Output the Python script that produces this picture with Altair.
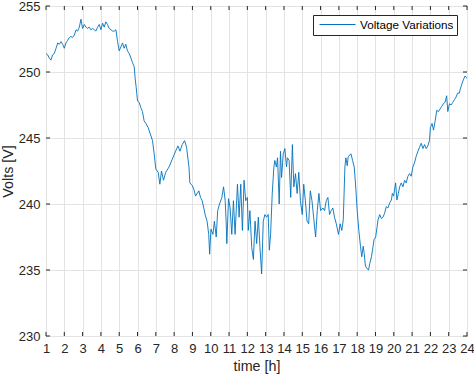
import altair as alt
import pandas as pd

# ---- data ----
time_h = [
    1.0, 1.09, 1.18, 1.27, 1.36, 1.45, 1.55, 1.64, 1.73, 1.82, 1.91, 2.0, 2.09, 2.18, 2.27, 2.36, 2.45, 2.55,
    2.64, 2.73, 2.82, 2.91, 3.0, 3.09, 3.18, 3.27, 3.36, 3.45, 3.55, 3.64, 3.73, 3.82, 3.91, 4.0, 4.09, 4.18,
    4.27, 4.36, 4.45, 4.55, 4.64, 4.73, 4.82, 4.91, 5.0, 5.09, 5.18, 5.27, 5.36, 5.45, 5.55, 5.64, 5.73, 5.82,
    5.87, 5.93, 6.0, 6.09, 6.18, 6.27, 6.36,
    6.46, 6.58, 6.7, 6.82, 6.91, 7.0, 7.13, 7.22, 7.31, 7.42, 7.54, 7.72, 7.9, 8.08, 8.21, 8.32, 8.44, 8.57,
    8.68, 8.81, 8.86, 8.99, 9.08, 9.17, 9.35, 9.44, 9.53, 9.62, 9.71, 9.8, 9.89, 9.94, 10.01, 10.12, 10.2,
    10.3, 10.38, 10.48, 10.61, 10.7, 10.79, 10.84, 10.88, 10.97, 11.06, 11.15, 11.24, 11.33, 11.46, 11.55,
    11.64, 11.73, 11.82, 11.91, 12.0,
    12.05, 12.14, 12.24, 12.33, 12.42, 12.51, 12.6, 12.69, 12.78, 12.87, 12.96, 13.05, 13.14, 13.2, 13.27,
    13.36, 13.45, 13.5, 13.59, 13.65, 13.74, 13.81, 13.87, 13.96, 14.05, 14.14, 14.19, 14.28, 14.37, 14.46,
    14.54, 14.63, 14.72, 14.81, 14.9, 15.0, 15.08, 15.17, 15.26, 15.35, 15.44, 15.53, 15.62, 15.73, 15.82,
    15.91, 16.0, 16.13, 16.22, 16.31, 16.4, 16.49, 16.58, 16.67, 16.76, 16.86, 16.98, 17.07, 17.16, 17.24,
    17.33, 17.38, 17.46, 17.51, 17.6, 17.66, 17.75, 17.84, 17.93, 18.0,
    18.09, 18.18, 18.25, 18.33, 18.38, 18.45, 18.54, 18.62, 18.69, 18.78, 18.87, 18.92, 19.01, 19.09, 19.14,
    19.23, 19.32, 19.41, 19.5, 19.59, 19.68, 19.78, 19.87, 19.92, 19.99, 20.1, 20.17, 20.25, 20.32, 20.41,
    20.5, 20.59, 20.68, 20.77, 20.86, 20.95, 21.04, 21.13, 21.22, 21.32, 21.41, 21.5, 21.59, 21.68, 21.77,
    21.86, 21.95, 22.0, 22.09, 22.17, 22.26, 22.35, 22.44, 22.53, 22.62, 22.71, 22.8, 22.89, 22.95, 23.04,
    23.13, 23.22, 23.31, 23.4, 23.49, 23.58, 23.63, 23.72, 23.8, 23.89, 23.96, 24.0,
]
volts = [
    251.4, 251.3, 251.05, 250.9, 251.3, 251.4, 251.8, 252.2, 252.1, 252.3, 252.1, 251.8, 252.2, 252.4, 252.6,
    252.7, 252.6, 252.8, 253.2, 253.1, 253.4, 254.0, 253.3, 253.6, 253.4, 253.3, 253.4, 253.2, 253.3, 253.2,
    253.1, 253.4, 253.6, 253.2, 253.7, 253.4, 253.8, 253.6, 253.3, 253.2, 253.1, 253.1, 253.2, 252.3, 251.6,
    251.9, 252.2, 251.8, 252.1, 251.6, 251.4, 251.05, 250.7, 250.4, 249.5, 248.8, 247.8, 247.7, 247.3, 247.0,
    246.3,
    246.1, 245.8, 245.3, 244.8, 243.8, 242.65, 242.4, 241.5, 242.5, 241.8, 242.4, 242.8, 243.4, 244.0, 244.4,
    244.0, 244.5, 244.8, 244.3, 242.8, 241.6, 241.4, 241.1, 240.6, 241.0, 240.5, 240.25, 239.7, 239.1, 238.7,
    237.7, 236.2, 238.1, 237.7, 238.7, 237.5, 239.5, 240.0, 240.5, 241.3, 240.25, 238.7, 237.0, 240.4, 239.7,
    237.7, 240.25, 237.7, 241.5, 239.0, 241.5, 238.0, 241.8, 240.25, 240.5,
    238.0, 239.5, 236.7, 235.8, 238.7, 237.0, 239.0, 236.7, 234.7, 238.7, 239.2, 239.0, 239.2, 236.5, 237.7,
    240.8, 242.8, 243.3, 242.8, 243.5, 240.0, 244.0, 242.0, 243.8, 244.2, 242.8, 243.5, 243.3, 240.5, 244.5,
    241.3, 242.3, 240.8, 242.4, 240.25, 239.2, 241.5, 240.25, 238.7, 238.5, 241.0, 240.25, 239.0, 237.5, 239.5,
    240.8, 239.5, 239.7, 239.5, 240.25, 240.5, 239.2, 239.5, 239.7, 239.0, 238.5, 237.7, 238.5, 238.0, 238.8,
    242.8, 243.5, 242.9, 243.6, 243.7, 243.8, 243.3, 242.8, 241.1, 239.5,
    238.0, 236.8, 236.0, 236.8, 236.3, 235.3, 235.1, 235.0, 235.5, 236.0, 236.8, 237.3, 237.5, 238.3, 238.8,
    239.2, 238.9, 239.0, 239.3, 239.8, 239.7, 240.1, 240.3, 240.8, 240.6, 241.6, 240.3, 240.8, 241.3, 241.6,
    241.3, 241.8, 241.6, 242.1, 242.3, 242.1, 242.8, 243.1, 243.6, 244.0, 244.3, 244.6, 244.2, 244.5, 244.2,
    244.4, 244.8, 245.8, 246.1, 245.6, 246.3, 247.1, 247.0, 247.2, 247.4, 247.6, 247.7, 248.2, 247.0, 247.6,
    247.5, 247.7, 247.9, 248.1, 248.4, 248.4, 248.7, 249.1, 249.4, 249.7, 249.6, 249.5,
]
x_ticks = list(range(1, 25))
y_ticks = [230, 235, 240, 245, 250, 255]
series_name = "Voltage Variations"

W, H = 421, 330
AX = "#262626"

df = pd.DataFrame({"time": time_h, "volts": volts, "series": series_name})
xt = pd.DataFrame({"time": x_ticks})
yt = pd.DataFrame({"volts": y_ticks})

xscale = alt.Scale(domain=[1, 24], nice=False, zero=False)
yscale = alt.Scale(domain=[230, 255], nice=False, zero=False)

x_axis = alt.Axis(values=x_ticks, title="time [h]", tickSize=0, domain=False,
                  grid=True, labelPadding=6, titlePadding=4, labelFlush=False)
y_axis = alt.Axis(values=y_ticks, title="Volts [V]", tickSize=0, domain=False,
                  grid=True, labelPadding=6, titlePadding=3)

X = alt.X("time:Q", scale=xscale, axis=x_axis)
Y = alt.Y("volts:Q", scale=yscale, axis=y_axis)

line = alt.Chart(df).mark_line(strokeWidth=0.9, clip=True).encode(
    x=X,
    y=Y,
    color=alt.Color(
        "series:N",
        scale=alt.Scale(range=["#0072BD"]),
        legend=alt.Legend(
            title=None, orient="none", legendX=267, legendY=9,
            symbolType="M-3,0H3", symbolSize=144, symbolStrokeWidth=1,
            symbolFillColor="transparent", symbolOffset=15,
            labelFontSize=11.7, labelOffset=16, labelColor="#000000",
            fillColor="#ffffff", strokeColor=AX, padding=3,
        ),
    ),
)

tick_len = 4
xb = alt.Chart(xt).mark_rule(color=AX, strokeWidth=1).encode(
    x=X, y=alt.value(H), y2=alt.value(H - tick_len))
xtop = alt.Chart(xt).mark_rule(color=AX, strokeWidth=1).encode(
    x=X, y=alt.value(0), y2=alt.value(tick_len))
yl = alt.Chart(yt).mark_rule(color=AX, strokeWidth=1).encode(
    y=Y, x=alt.value(0), x2=alt.value(tick_len))
yr = alt.Chart(yt).mark_rule(color=AX, strokeWidth=1).encode(
    y=Y, x=alt.value(W), x2=alt.value(W - tick_len))

chart = alt.layer(xb, xtop, yl, yr, line).properties(
    width=W, height=H,
    autosize=alt.AutoSizeParams(type="none"),
    padding={"left": 46, "top": 6, "right": 7, "bottom": 41},
    background="#ffffff",
).configure_view(
    stroke=AX, strokeWidth=1
).configure_axis(
    labelFont="Liberation Sans", titleFont="Liberation Sans",
    labelFontSize=13, titleFontSize=14.3, titleFontWeight="normal",
    labelColor=AX, titleColor=AX, gridColor="#e3e3e3", gridWidth=1,
).configure_legend(
    labelFont="Liberation Sans",
)

chart.save("out.html", embed_options={"renderer": "svg", "actions": False})
